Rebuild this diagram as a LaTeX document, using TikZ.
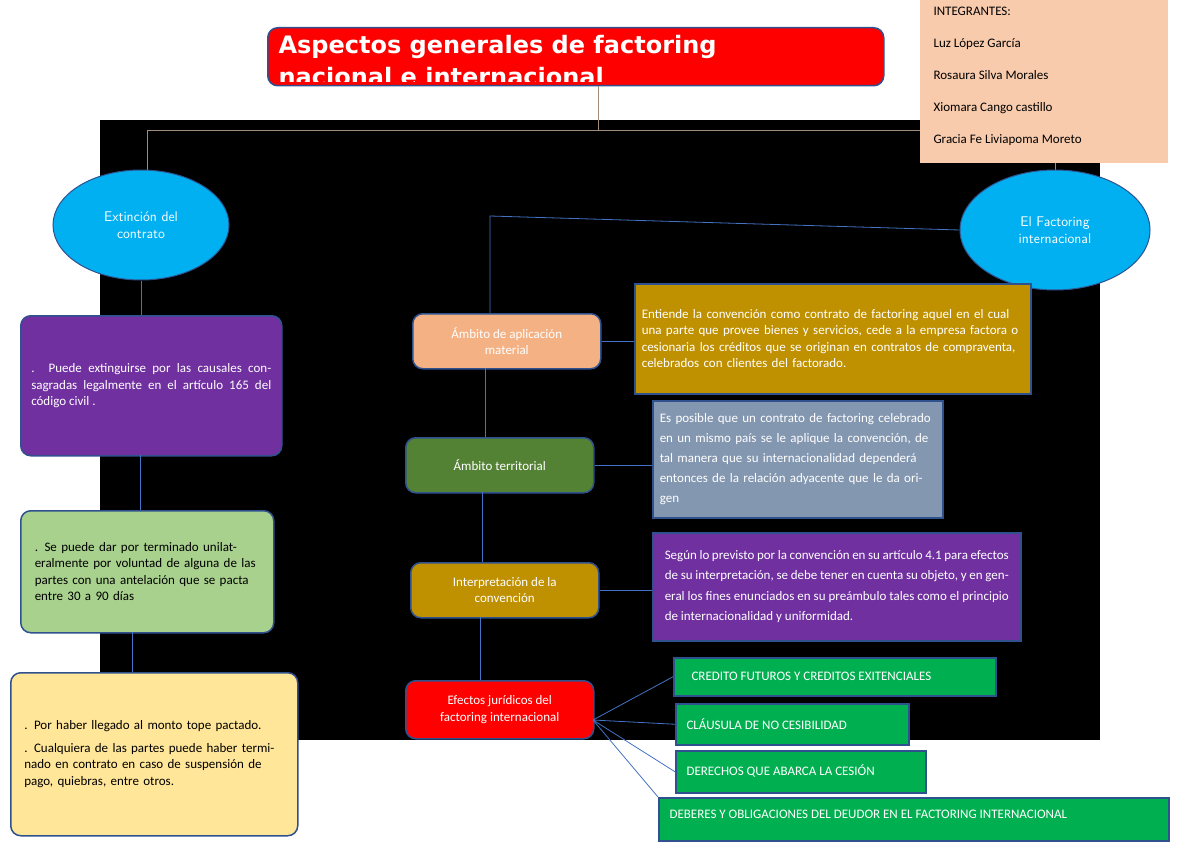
\documentclass[tikz,border=0pt]{standalone}
\usepackage{fontspec}
\setmainfont{Carlito}
\newfontfamily\titlefont{DejaVu Sans}
\usetikzlibrary{shapes.geometric}
\definecolor{cpeach}{HTML}{F8CBAD}
\definecolor{ccyan}{HTML}{00B0F0}
\definecolor{cpurple}{HTML}{7030A0}
\definecolor{clgreen}{HTML}{A9D18E}
\definecolor{cyel}{HTML}{FFE699}
\definecolor{csalmon}{HTML}{F4B183}
\definecolor{cdgreen}{HTML}{548235}
\definecolor{cgold}{HTML}{BF9000}
\definecolor{cslate}{HTML}{8497B0}
\definecolor{cgreen}{HTML}{00B050}
\definecolor{cbord}{HTML}{2F528F}
\definecolor{cline}{HTML}{4472C4}
\definecolor{ctan}{HTML}{A08C78}
\begin{document}
\begin{tikzpicture}[x=1pt,y=-1pt,font=\fontsize{13}{16.5}\selectfont,
 rbox/.style={draw=cbord,line width=1.5pt,rounded corners=10pt,inner sep=6pt,text=white},
 sbox/.style={draw=cbord,line width=1.5pt,inner sep=7pt,text=white,anchor=north west,align=left},
 gbox/.style={draw=cbord,line width=1.5pt,fill=cgreen,text=white,anchor=north west,inner sep=0pt},
 ell/.style={ellipse,draw=cbord,line width=1pt,fill=ccyan,text=white,align=center,font=\sffamily\fontsize{14}{17}\selectfont},
 conn/.style={draw=cline,line width=0.8pt}]
\useasboundingbox (0,0) rectangle (1200,848);
\fill[black] (100,120) rectangle (1100,740);
% title
\node[rbox,fill=red,minimum width=616pt,minimum height=58pt,anchor=north west] (title) at (267,27) {};
\begin{scope}
\clip (270,30) rectangle (880,82);
\node[anchor=north west,text=white,align=left,font=\titlefont\bfseries\fontsize{24}{32}\selectfont] (tt) at (275,32) {Aspectos generales de factoring\\nacional e internacional};
\end{scope}
\coordinate (j) at (598,131);
\draw[ctan,line width=1pt] (title.south -| j) -- (j);
\draw[ctan,line width=1pt] (147,131) -- (1055,131) -- (1055,170);
\draw[ctan,line width=1pt] (147,131) -- (147,172);
% integrantes
\node[fill=cpeach,anchor=north west,minimum width=248pt,minimum height=163pt,inner sep=0pt] (integ) at (920,0) {};
\node[anchor=north west,align=left,text=black,font=\fontsize{13}{32}\selectfont] (integt) at (930,4) {INTEGRANTES:\\Luz López García\\Rosaura Silva Morales\\Xiomara Cango castillo\\Gracia Fe Liviapoma Moreto};
% ellipses
\node[ell,minimum width=176pt,minimum height=110pt] (ext) at (141,225) {Extinción del\\contrato};
\node[ell,minimum width=190pt,minimum height=120pt] (fi) at (1055,230) {El Factoring\\internacional};
% left boxes
\node[rbox,fill=cpurple,anchor=north west,minimum width=261pt,minimum height=140pt,text width=240pt,align=justify] (b1) at (20,315) {. Puede extinguirse por las causales consagradas legalmente en el artículo 165 del código civil .};
\node[rbox,fill=clgreen,text=black,anchor=north west,minimum width=253pt,minimum height=122pt,text width=225pt,align=left] (b2) at (20,510) {. Se puede dar por terminado unilateralmente por voluntad de alguna de las partes con una antelación que se pacta entre 30 a 90 días};
\node[rbox,fill=cyel,text=black,anchor=north west,minimum width=287pt,minimum height=163pt,text width=260pt,align=left] (b3) at (10,672) {. Por haber llegado al monto tope pactado.\\[6pt] . Cualquiera de las partes puede haber terminado en contrato en caso de suspensión de pago, quiebras, entre otros.};
\draw[conn] (ext.south) -- (b1.north -| ext.south);
\draw[conn] (140,455) -- (140,510);
\draw[conn] (132,632) -- (132,672);
% center boxes
\node[rbox,fill=csalmon,anchor=north west,minimum width=188pt,minimum height=55pt,align=center] (a1) at (412,313) {Ámbito de aplicación\\material};
\node[rbox,fill=cdgreen,anchor=north west,minimum width=188pt,minimum height=55pt] (a2) at (405,437) {Ámbito territorial};
\node[rbox,fill=cgold,anchor=north west,minimum width=188pt,minimum height=55pt,align=center] (a3) at (410,562) {Interpretación de la\\convención};
\node[rbox,fill=red,anchor=north west,minimum width=188pt,minimum height=58pt,align=center] (a4) at (405,680) {Efectos jurídicos del\\factoring internacional};
\draw[conn] (fi.west) -- (490,216) -- (490,313);
\draw[conn] (485,368) -- (485,437);
\draw[conn] (482,492) -- (482,562);
\draw[conn] (480,617) -- (480,680);
% descriptive boxes
\node[sbox,fill=cgold,minimum width=396pt,minimum height=110pt,text width=382pt] (d1) at (634,283) {Entiende la convención como contrato de factoring aquel en el cual una parte que provee bienes y servicios, cede a la empresa factora o cesionaria los créditos que se originan en contratos de compraventa, celebrados con clientes del factorado.};
\node[sbox,fill=cslate,minimum width=290pt,minimum height=117pt,text width=276pt,font=\fontsize{13}{20}\selectfont] (d2) at (652,400) {Es posible que un contrato de factoring celebrado en un mismo país se le aplique la convención, de tal manera que su internacionalidad dependerá entonces de la relación adyacente que le da origen};
\node[sbox,fill=cpurple,minimum width=368pt,minimum height=108pt,text width=344pt,align=justify,font=\fontsize{13}{20.5}\selectfont] (d3) at (652,532) {Según lo previsto por la convención en su artículo 4.1 para efectos de su interpretación, se debe tener en cuenta su objeto, y en general los fines enunciados en su preámbulo tales como el principio de internacionalidad y uniformidad.};
\draw[conn] (a1.east) -- (a1.east -| d1.west);
\draw[conn] (a2.east) -- (a2.east -| d2.west);
\draw[conn] (a3.east) -- (a3.east -| d3.west);
% green boxes
\node[gbox,minimum width=322pt,minimum height=38pt] (g1) at (673,657) {};
\node[anchor=west,text=white] (g1t) at (688,676) {CREDITO FUTUROS Y CREDITOS EXITENCIALES};
\node[gbox,minimum width=233pt,minimum height=41pt] (g2) at (675,703) {};
\node[anchor=west,text=white] (g2t) at (683,724) {CLÁUSULA DE NO CESIBILIDAD};
\node[gbox,minimum width=250pt,minimum height=42pt] (g3) at (675,750) {};
\node[anchor=west,text=white] (g3t) at (683,771) {DERECHOS QUE ABARCA LA CESIÓN};
\node[gbox,minimum width=510pt,minimum height=43pt] (g4) at (658,797) {};
\node[anchor=west,text=white] (g4t) at (666,814) {DEBERES Y OBLIGACIONES DEL DEUDOR EN EL FACTORING INTERNACIONAL};
\coordinate (ae) at (593,720);
\draw[conn] (ae) -- (g1.west);
\draw[conn] (ae) -- (g2.west);
\draw[conn] (ae) -- (g3.west);
\draw[conn] (ae) -- (g4.north west);
\end{tikzpicture}
\end{document}
